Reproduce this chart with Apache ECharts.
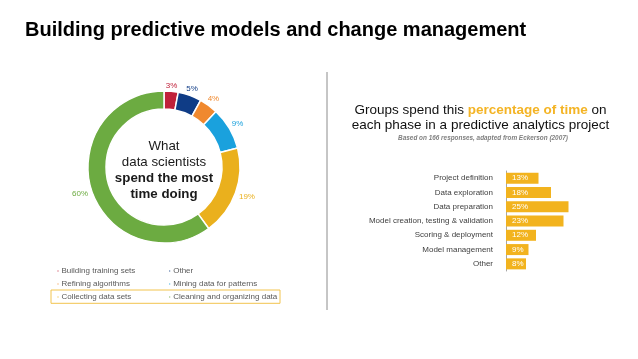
<!DOCTYPE html>
<html>
<head>
<meta charset="utf-8">
<script src="https://cdn.jsdelivr.net/npm/echarts@6/dist/echarts.min.js"></script>
<style>html,body{margin:0;padding:0;background:#fff;}#c{width:638px;height:359px;}</style>
</head>
<body>
<div id="c"></div>
<script>
// ---- data ----
var pieNames = ['Building training sets', 'Other', 'Refining algorithms', 'Mining data for patterns', 'Collecting data sets', 'Cleaning and organizing data'];
var pieValues = [3, 5, 4, 9, 19, 60];
var pieColors = ['#C0213A', '#0F3C86', '#F0892F', '#1AA1DD', '#EAB01D', '#6CAB41'];

var barCategories = ['Project definition', 'Data exploration', 'Data preparation', 'Model creation, testing & validation', 'Scoring & deployment', 'Model management', 'Other'];
var barValues = [13, 18, 25, 23, 12, 9, 8];

var FONT = '"Liberation Sans", Arial, sans-serif';
var PIE_CX = 164, PIE_CY = 167;
var pieData = pieNames.map(function (n, i) { return { name: n, value: pieValues[i] }; });
var labelRich = {};
pieColors.forEach(function (c, i) { labelRich['c' + i] = { color: c, fontSize: 8, fontFamily: FONT }; });

var legendCommon = {
  orient: 'vertical', top: 264.5, padding: 0,
  itemGap: 0, itemWidth: 3, itemHeight: 3, icon: 'rect',
  selectedMode: false,
  textStyle: { fontSize: 8, color: '#595959', lineHeight: 13, fontFamily: FONT, padding: [0, 0, 0, -3] }
};

var chart = echarts.init(document.getElementById('c'), null, { renderer: 'canvas' });
chart.setOption({
  animation: false,
  color: pieColors,
  textStyle: { fontFamily: FONT },
  grid: { left: 506, top: 171, width: 75, height: 100, containLabel: false },
  xAxis: { type: 'value', min: 0, max: 30, show: false },
  yAxis: {
    type: 'category', data: barCategories, inverse: true, offset: 6,
    axisLine: { show: true, lineStyle: { color: '#a6a6a6', width: 1 } },
    axisTick: { show: false },
    splitLine: { show: false },
    axisLabel: { margin: 7, fontSize: 8, color: '#404040', fontFamily: FONT }
  },
  legend: [
    Object.assign({}, legendCommon, { left: 55.5, data: [pieNames[0], pieNames[2], pieNames[4]] }),
    Object.assign({}, legendCommon, { left: 167.2, data: [pieNames[1], pieNames[3], pieNames[5]] })
  ],
  series: [
    {
      type: 'pie', silent: true,
      center: [PIE_CX, PIE_CY], radius: [58, 76],
      startAngle: 90, clockwise: true, avoidLabelOverlap: false,
      itemStyle: { borderColor: '#fff', borderWidth: 1.5 },
      label: { show: false }, labelLine: { show: false },
      data: pieData
    },
    {
      type: 'pie', silent: true,
      center: [PIE_CX, PIE_CY], radius: [71, 81],
      startAngle: 90, clockwise: true, avoidLabelOverlap: false,
      itemStyle: { color: 'transparent', borderWidth: 0 },
      label: {
        show: true, position: 'inside', fontSize: 8, fontFamily: FONT,
        formatter: function (p) { return '{c' + p.dataIndex + '|' + p.value + '%}'; },
        rich: labelRich
      },
      labelLine: { show: false },
      labelLayout: function (p) {
        var r = p.labelRect;
        var lx = r.x + r.width / 2 - PIE_CX, ly = r.y + r.height / 2 - PIE_CY;
        var d = Math.sqrt(lx * lx + ly * ly) || 1;
        var ux = lx / d, uy = ly / d;
        var push = (r.width / 2) * 1.15 * Math.abs(ux) + 1.5 * Math.abs(uy);
        return { dx: ux * push, dy: uy * push };
      },
      data: pieData
    },
    {
      type: 'bar', data: barValues, barWidth: 11, silent: true,
      itemStyle: { color: '#F2B31E' },
      label: { show: true, position: 'insideLeft', distance: 6, color: '#fff', fontSize: 8, fontFamily: FONT, formatter: '{c}%' }
    }
  ],
  graphic: [
    { type: 'text', x: 25, y: 30.5, style: { text: 'Building predictive models and change management', font: 'bold 20px ' + FONT, fill: '#000', align: 'left', verticalAlign: 'middle' } },
    { type: 'text', x: 480.5, y: 117.5, style: {
        text: '{n|Groups spend this }{h|percentage of time}{n| on}\n{n|each phase in a predictive analytics project}',
        align: 'center', verticalAlign: 'middle',
        rich: {
          n: { fontSize: 13.5, fontFamily: FONT, fill: '#111', lineHeight: 15 },
          h: { fontSize: 13.5, fontFamily: FONT, fill: '#F4B425', fontWeight: 'bold', lineHeight: 15 }
        }
      } },
    { type: 'text', x: 483, y: 138.5, style: { text: 'Based on 166 responses, adapted from Eckerson (2007)', font: 'italic bold 6.4px ' + FONT, fill: '#7f7f7f', align: 'center', verticalAlign: 'middle' } },
    { type: 'text', x: 164, y: 170, style: {
        text: '{n|What}\n{n|data scientists}\n{b|spend the most}\n{b|time doing}',
        align: 'center', verticalAlign: 'middle',
        rich: {
          n: { fontSize: 13.3, fontFamily: FONT, fill: '#1a1a1a', lineHeight: 16 },
          b: { fontSize: 13.3, fontFamily: FONT, fill: '#1a1a1a', fontWeight: 'bold', lineHeight: 16 }
        }
      } },
    { type: 'line', shape: { x1: 327, y1: 72, x2: 327, y2: 310 }, style: { stroke: '#8c8c8c', lineWidth: 1 } },
    { type: 'rect', shape: { x: 51, y: 290, width: 229, height: 13.3 }, style: { fill: 'none', stroke: '#F2C44E', lineWidth: 1 } }
  ]
});
</script>
</body>
</html>
